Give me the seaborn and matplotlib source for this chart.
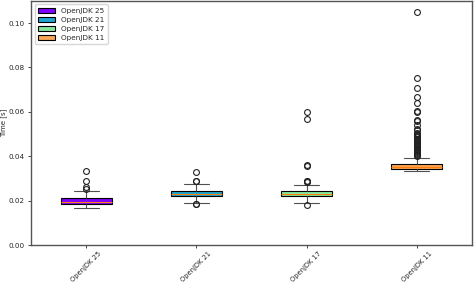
import numpy as np
import pandas as pd
import matplotlib
matplotlib.use("Agg")
import matplotlib.pyplot as plt
import seaborn as sns

# ============================================
# DATA
# values + how often each value occurs
# ============================================

versions = ["OpenJDK 25", "OpenJDK 21", "OpenJDK 17", "OpenJDK 11"]
colors = ["#8000ff", "#1ea6cf", "#86e89e", "#f9a656"]

jdk25_values = [0.0168, 0.0183, 0.0196, 0.0210, 0.0243,
                0.0253, 0.0262, 0.0288, 0.0333]
jdk25_counts = [1, 10, 10, 10, 1, 1, 1, 1, 1]

jdk21_values = [0.0184, 0.0185, 0.0190, 0.0220, 0.0232, 0.0243, 0.0276,
                0.0288, 0.0290, 0.0331]
jdk21_counts = [1, 1, 1, 10, 10, 10, 1, 1, 1, 1]

jdk17_values = [0.0181, 0.0190, 0.0219, 0.0230, 0.0244, 0.0271,
                0.0285, 0.0287, 0.0289, 0.0358, 0.0361, 0.0566, 0.0599]
jdk17_counts = [1, 1, 12, 12, 12, 1, 1, 1, 1, 1, 1, 1, 1]

jdk11_values = [0.0333, 0.0343, 0.0352, 0.0366, 0.0394,
                0.0402, 0.0405, 0.0410, 0.0413, 0.0418, 0.0422, 0.0427,
                0.0431, 0.0435, 0.0440, 0.0444, 0.0448, 0.0452, 0.0456,
                0.0460, 0.0464, 0.0468, 0.0472, 0.0476, 0.0480, 0.0485,
                0.0490, 0.0495, 0.0500, 0.0505, 0.0518, 0.0521, 0.0541,
                0.0560, 0.0563, 0.0600, 0.0603, 0.0642, 0.0668, 0.0709,
                0.0752, 0.1049]
jdk11_counts = [1, 50, 50, 50, 1] + [1] * 37


# ============================================
# BUILD LONG TABLE
# ============================================

def build_frame():
    parts = []
    for name, vals, cnts in [
        ("OpenJDK 25", jdk25_values, jdk25_counts),
        ("OpenJDK 21", jdk21_values, jdk21_counts),
        ("OpenJDK 17", jdk17_values, jdk17_counts),
        ("OpenJDK 11", jdk11_values, jdk11_counts),
    ]:
        times = np.repeat(vals, cnts)
        parts.append(pd.DataFrame({"version": name, "time": times}))
    return pd.concat(parts, ignore_index=True)


# ============================================
# PLOT
# ============================================

df = build_frame()

sns.set_style("ticks")
fig, ax = plt.subplots(figsize=(4.74, 2.84), dpi=100)
fig.subplots_adjust(left=0.066, right=0.995, top=0.997, bottom=0.137)

sns.boxplot(
    data=df, x="version", y="time", hue="version",
    order=versions, hue_order=versions, palette=colors, saturation=1,
    width=0.46, linewidth=0.8, linecolor="black", legend=True,
    whiskerprops=dict(color="#505050"),
    capprops=dict(color="#505050"),
    medianprops=dict(color="#ff7f0e", linewidth=0.8),
    flierprops=dict(marker="o", markersize=4.2, markerfacecolor="none",
                    markeredgecolor="#222222", markeredgewidth=0.8),
    ax=ax,
)

ax.set_ylim(0, 0.110)
ax.set_yticks([0.0, 0.02, 0.04, 0.06, 0.08, 0.10])
ax.set_xlabel("")
ax.set_ylabel("Time [s]", fontsize=5, labelpad=1.5)
ax.tick_params(axis="y", labelsize=5.2, length=2.5, width=0.6, pad=2)
ax.tick_params(axis="x", labelsize=4.9, length=2.5, width=0.6, pad=1.5)
plt.setp(ax.get_xticklabels(), rotation=45)
for s in ax.spines.values():
    s.set_color("#555555")
    s.set_linewidth(1.0)

leg = ax.legend(loc="upper left", fontsize=5.2, frameon=True,
                handlelength=2.4, borderpad=0.45, labelspacing=0.4)
for h in leg.legend_handles:
    h.set_edgecolor("black")

fig.savefig("out.png", dpi=100)
